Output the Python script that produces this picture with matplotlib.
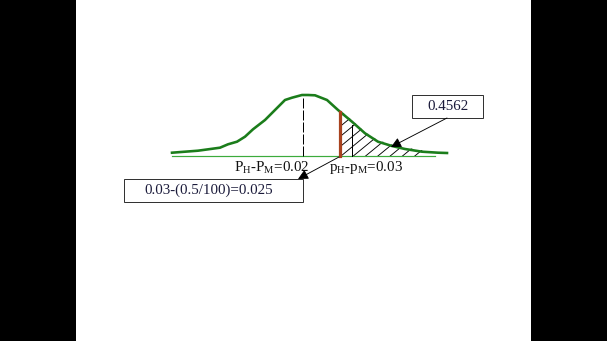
import numpy as np
import matplotlib
matplotlib.use("Agg")
import matplotlib.pyplot as plt
from matplotlib.patches import Rectangle

plt.rcParams['font.family'] = ['Liberation Serif', 'DejaVu Serif']
plt.rcParams['mathtext.fontset'] = 'custom'
plt.rcParams['mathtext.rm'] = 'Liberation Serif'
plt.rcParams['mathtext.it'] = 'Liberation Serif:italic'

# ---- data (x = horizontal position, h = height above baseline) ----
curve_x = [172, 198, 220, 228, 237, 245, 253, 265, 275, 285, 292, 302, 308,
           315, 327, 338, 352, 365, 378, 392, 405, 422, 438, 447]
curve_h = [3.3, 5.3, 8.3, 11.7, 14.3, 19.3, 26.7, 36, 46, 56, 58.3, 61, 61,
           60.7, 56, 46, 34.3, 22.7, 14.3, 10, 7, 4.3, 3.3, 3]
baseline_x = [172, 435]
mean_x = 303            # P_H - P_M = 0.02
corrected_x = 340       # 0.03 - (0.5/100) = 0.025
observed_x = 352        # p_H - p_M = 0.03
observed_h = 31
hatch_end_x = 425

label_mean = r"P$_{\mathrm{H}}$-P$_{\mathrm{M}}$=0.02"
label_obs = r"p$_{\mathrm{H}}$-p$_{\mathrm{M}}$=0.03"
box_area = "0.4562"
box_corr = "0.03-(0.5/100)=0.025"

W, H = 607, 341
DPI = 72
FS = 15
fig = plt.figure(figsize=(W / DPI, H / DPI), dpi=DPI, facecolor='black')
ax = fig.add_axes([0, 0, 1, 1])
ax.set_xlim(0, W)
ax.set_ylim(156 - H, 156)
ax.axis('off')
ax.set_facecolor('black')

# white page
ax.add_patch(Rectangle((76, 156 - H), 531 - 76, H, facecolor='white', edgecolor='none', zorder=0))

cx = np.array(curve_x, float)
ch = np.array(curve_h, float)

# hatched area (region drawn from the curve data, hatch lines clipped to it)
xs = np.linspace(corrected_x, hatch_end_x, 200)
hs = np.interp(xs, cx, ch)
region = ax.fill_between(xs, 0, hs + 1.5, facecolor='none', edgecolor='none', zorder=1)
clip_path = region.get_paths()[0]
slope, step = 0.82, 12.3
for x0 in np.arange(corrected_x + 1 - 6 * step, hatch_end_x, step):
    ln, = ax.plot([x0, x0 + 100], [0, 100 * slope], color='black', lw=0.9, zorder=2)
    ln.set_clip_path(clip_path, ax.transData)

# baseline
ax.plot(baseline_x, [0, 0], color='#3cab3c', lw=1.2, zorder=3)
# curve
ax.plot(cx, ch, color='#1b7d1b', lw=2.6, solid_joinstyle='round', zorder=4)

# mean dashed line
ax.plot([mean_x, mean_x], [0, np.interp(mean_x, cx, ch) - 1], color='black', lw=1.0,
        dashes=(10, 2), zorder=3)
# observed line
ax.plot([observed_x, observed_x], [0, observed_h], color='black', lw=1.0, zorder=3)
# corrected (brown) line
ax.plot([corrected_x, corrected_x], [0, np.interp(corrected_x, cx, ch)], color='#a8421e',
        lw=3.2, zorder=5)

# labels
ax.text(272, -11.5, label_mean, fontsize=FS, ha='center', va='center', color='#111111')
ax.text(366, -11.5, label_obs, fontsize=FS, ha='center', va='center', color='#111111')

# boxes
ax.text(448, 50, box_area, fontsize=FS, ha='center', va='center', color='#1a1a3a', zorder=6)
ax.add_patch(Rectangle((412, 38), 71, 23, facecolor='white', edgecolor='#333333', lw=1.0, zorder=5))
ax.text(209, -34.5, box_corr, fontsize=FS, ha='center', va='center', color='#1a1a3a', zorder=6)
ax.add_patch(Rectangle((124, -46), 179, 23, facecolor='white', edgecolor='#333333', lw=1.0, zorder=5))

# arrows
arrow_kw = dict(arrowstyle='-|>,head_length=0.6,head_width=0.3', color='black', lw=0.9,
                shrinkA=0, shrinkB=0, mutation_scale=14)
ax.annotate('', xy=(391, 9), xytext=(447, 38), arrowprops=arrow_kw, zorder=7)
ax.annotate('', xy=(298, -23), xytext=(339, -1), arrowprops=arrow_kw, zorder=7)

fig.savefig('out.png', dpi=DPI, facecolor='black')
